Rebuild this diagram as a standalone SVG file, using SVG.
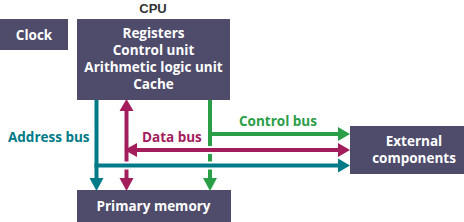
<svg xmlns="http://www.w3.org/2000/svg" width="464" height="222" viewBox="0 0 464 222">
<style>
.box{fill:#4e4b6b}
.bt{font-family:"Open Sans","Liberation Sans",sans-serif;font-weight:bold;font-size:13.5px;fill:#ffffff;text-anchor:middle}
.lab{font-family:"Open Sans","Liberation Sans",sans-serif;font-weight:bold;font-size:13.5px}
.ln{fill:none;stroke-width:4}
.halo{fill:none;stroke:#ffffff;stroke-width:8}
.teal{stroke:#007a87}
.mag{stroke:#a31c5c}
.grn{stroke:#2b9e48}
</style>
<rect width="464" height="222" fill="#ffffff"/>
<g id="clock">
<rect class="box" x="0" y="19" width="68" height="31"/>
<text class="bt" x="34" y="39.5">Clock</text>
</g>
<g id="cpu">
<text x="153" y="12.5" font-family="Liberation Sans, Arial, sans-serif" font-weight="bold" font-size="13" fill="#333333" text-anchor="middle">CPU</text>
<rect class="box" x="77" y="19" width="153" height="81"/>
<text class="bt" x="153.5" y="38">Registers</text>
<text class="bt" x="153.5" y="55">Control unit</text>
<text class="bt" x="153.5" y="72">Arithmetic logic unit</text>
<text class="bt" x="153.5" y="89">Cache</text>
</g>
<g id="memory">
<rect class="box" x="77" y="190" width="154" height="32"/>
<text class="bt" x="153.5" y="210.5">Primary memory</text>
</g>
<g id="external">
<rect class="box" x="350" y="126" width="114" height="48"/>
<text class="bt" x="414" y="146">External</text>
<text class="bt" x="414" y="163">components</text>
</g>
<g id="connectors">
<line class="ln grn" x1="210" y1="100" x2="210" y2="179"/>
<line class="ln grn" x1="208" y1="134" x2="339" y2="134"/>
<polygon fill="#2b9e48" points="203,178 217,178 210,191"/>
<polygon fill="#2b9e48" points="338,127 350,134 338,141"/>
<line class="ln mag" x1="126.5" y1="110" x2="126.5" y2="179"/>
<polygon fill="#a31c5c" points="119.5,111 133.5,111 126.5,99"/>
<polygon fill="#a31c5c" points="119.5,178 133.5,178 126.5,191"/>
<line class="halo" x1="140" y1="150" x2="338" y2="150"/>
<line class="ln mag" x1="135" y1="150" x2="339" y2="150"/>
<polygon fill="#a31c5c" points="137,143 124.5,150 137,157"/>
<polygon fill="#a31c5c" points="338,143 350,150 338,157"/>
<line class="ln teal" x1="96.5" y1="100" x2="96.5" y2="179"/>
<polygon fill="#007a87" points="89.5,178 103.5,178 96.5,191"/>
<line class="halo" x1="104" y1="165.5" x2="338" y2="165.5"/>
<line class="ln teal" x1="94.5" y1="165.5" x2="339" y2="165.5"/>
<polygon fill="#007a87" points="338,158.5 350,165.5 338,172.5"/>
<text class="lab" x="8" y="142" fill="#007a87">Address bus</text>
<text class="lab" x="142" y="142" fill="#a31c5c">Data bus</text>
<text class="lab" x="239" y="126" fill="#2b9e48">Control bus</text>
</g>
</svg>
